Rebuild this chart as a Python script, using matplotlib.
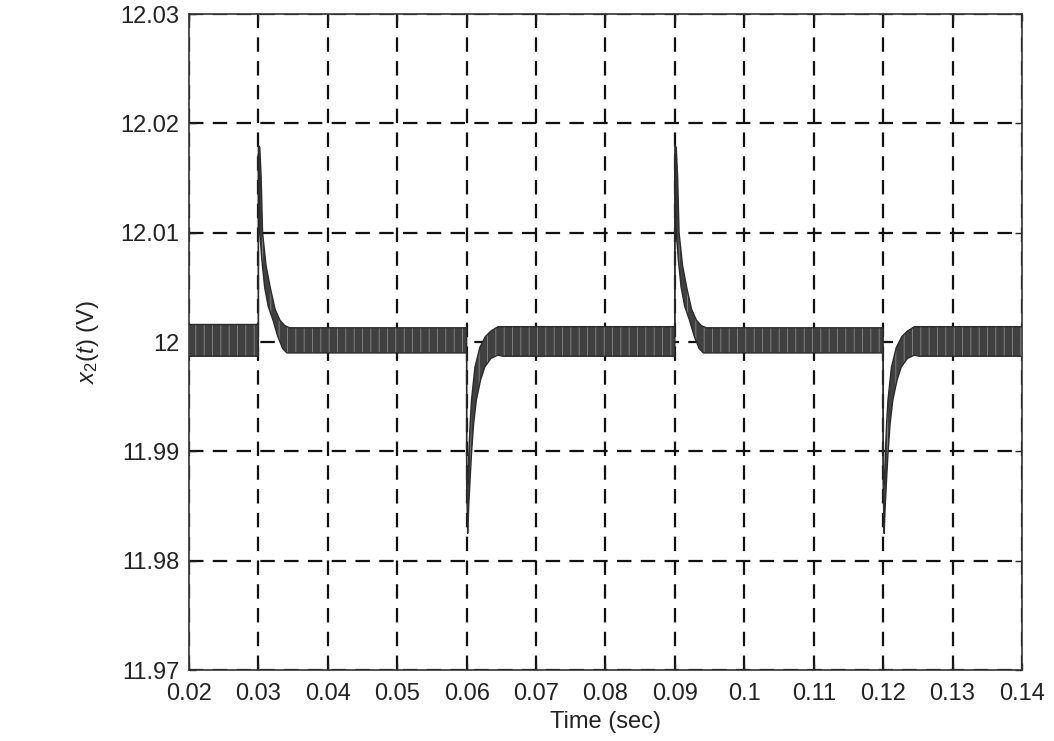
import numpy as np
import matplotlib
matplotlib.use("Agg")
import matplotlib.pyplot as plt

plt.rcParams['font.family'] = ['Liberation Sans', 'DejaVu Sans']
plt.rcParams['mathtext.fontset'] = 'custom'
plt.rcParams['mathtext.rm'] = 'Liberation Sans'
plt.rcParams['mathtext.it'] = 'Liberation Sans:italic'
plt.rcParams['hatch.linewidth'] = 0.6

# axis ticks
x_ticks = [0.02, 0.03, 0.04, 0.05, 0.06, 0.07, 0.08, 0.09, 0.10, 0.11, 0.12, 0.13, 0.14]
x_labels = ["0.02", "0.03", "0.04", "0.05", "0.06", "0.07", "0.08", "0.09", "0.1",
            "0.11", "0.12", "0.13", "0.14"]
y_ticks = [11.97, 11.98, 11.99, 12.00, 12.01, 12.02, 12.03]
y_labels = ["11.97", "11.98", "11.99", "12", "12.01", "12.02", "12.03"]

# load steps (sec) and their direction
event_t = [0.03, 0.06, 0.09, 0.12]
event_kind = ["up", "down", "up", "down"]

# ripple band envelope (V) between events
band_hi = [12.0016, 12.0013, 12.0014, 12.0013, 12.0014]
band_lo = [11.9987, 11.9990, 11.9987, 11.9990, 11.9987]

# transient envelopes, time measured from the step
up_hi_dt = [0, 0.0002, 0.0004, 0.0006, 0.0011, 0.0017, 0.0024, 0.0031, 0.0038, 0.0045]
up_hi_v = [12.0180, 12.0178, 12.0150, 12.0100, 12.0070, 12.0050, 12.0030, 12.0020, 12.0015, 12.0013]
up_lo_dt = [0, 0.0001, 0.0002, 0.0005, 0.0009, 0.0014, 0.0021, 0.0028, 0.0035, 0.0041]
up_lo_v = [12.0172, 12.0150, 12.0100, 12.0075, 12.0050, 12.0033, 12.0020, 12.0005, 11.9994, 11.9990]

dn_hi_dt = [0, 0.00005, 0.0002, 0.0003, 0.0005, 0.0007, 0.0012, 0.0019, 0.0027, 0.0035, 0.0045]
dn_hi_v = [11.9890, 11.9880, 11.9870, 11.9895, 11.9925, 11.9947, 11.9977, 11.9995, 12.0005, 12.0010, 12.0014]
dn_lo_dt = [0, 0.0001, 0.00015, 0.0003, 0.0005, 0.0007, 0.0010, 0.0014, 0.0020, 0.0026, 0.0035, 0.0045, 0.0052]
dn_lo_v = [11.9870, 11.9840, 11.9825, 11.9850, 11.9875, 11.9898, 11.9925, 11.9947, 11.9965, 11.9977, 11.9985, 11.9988, 11.9987]

t_start, t_end = 0.02, 0.14

# stitch the envelopes together
hi_t, hi_v = [t_start], [band_hi[0]]
lo_t, lo_v = [t_start], [band_lo[0]]
for i, (te, kind) in enumerate(zip(event_t, event_kind)):
    hi_t.append(te); hi_v.append(band_hi[i])
    lo_t.append(te); lo_v.append(band_lo[i])
    if kind == "up":
        hi_t += [te + d for d in up_hi_dt]; hi_v += up_hi_v
        lo_t += [te + d for d in up_lo_dt]; lo_v += up_lo_v
    else:
        hi_t += [te + d for d in dn_hi_dt]; hi_v += dn_hi_v
        lo_t += [te + d for d in dn_lo_dt]; lo_v += dn_lo_v
hi_t.append(t_end); hi_v.append(band_hi[-1])
lo_t.append(t_end); lo_v.append(band_lo[-1])

fig = plt.figure(figsize=(10.54, 7.41), dpi=100)
ax = fig.add_axes([0.1793, 0.0958, 0.7903, 0.8853])

poly_t = np.r_[hi_t, lo_t[::-1]]
poly_v = np.r_[hi_v, lo_v[::-1]]
# dense switching ripple shows as a dark band with light vertical streaks
ax.fill(poly_t, poly_v, facecolor='#404040', edgecolor='#8a8a8a', linewidth=0,
        hatch='||', zorder=3)
ax.plot(hi_t, hi_v, color='#2a2a2a', lw=1.0, zorder=4)
ax.plot(lo_t, lo_v, color='#2a2a2a', lw=1.0, zorder=4)

ax.set_xlim(t_start, t_end)
ax.set_ylim(11.97, 12.03)
ax.set_xticks(x_ticks)
ax.set_xticklabels(x_labels)
ax.set_yticks(y_ticks)
ax.set_yticklabels(y_labels)

ax.grid(True, color='#111111', linestyle=(0, (6.5, 4.2)), linewidth=1.6)
ax.set_axisbelow(True)

ax.tick_params(direction='in', length=5, width=1, top=True, right=True,
               labelsize=17, colors='#222222')
ax.tick_params(axis='x', pad=9)
ax.tick_params(axis='y', pad=7)
for s in ax.spines.values():
    s.set_linewidth(1.2)
    s.set_color('#333333')

ax.set_xlabel("Time (sec)", fontsize=17, labelpad=5, color='#222222')
ax.set_ylabel("$x_2(t)$ (V)", fontsize=17, labelpad=14, color='#222222')

fig.savefig("out.png", dpi=100)
